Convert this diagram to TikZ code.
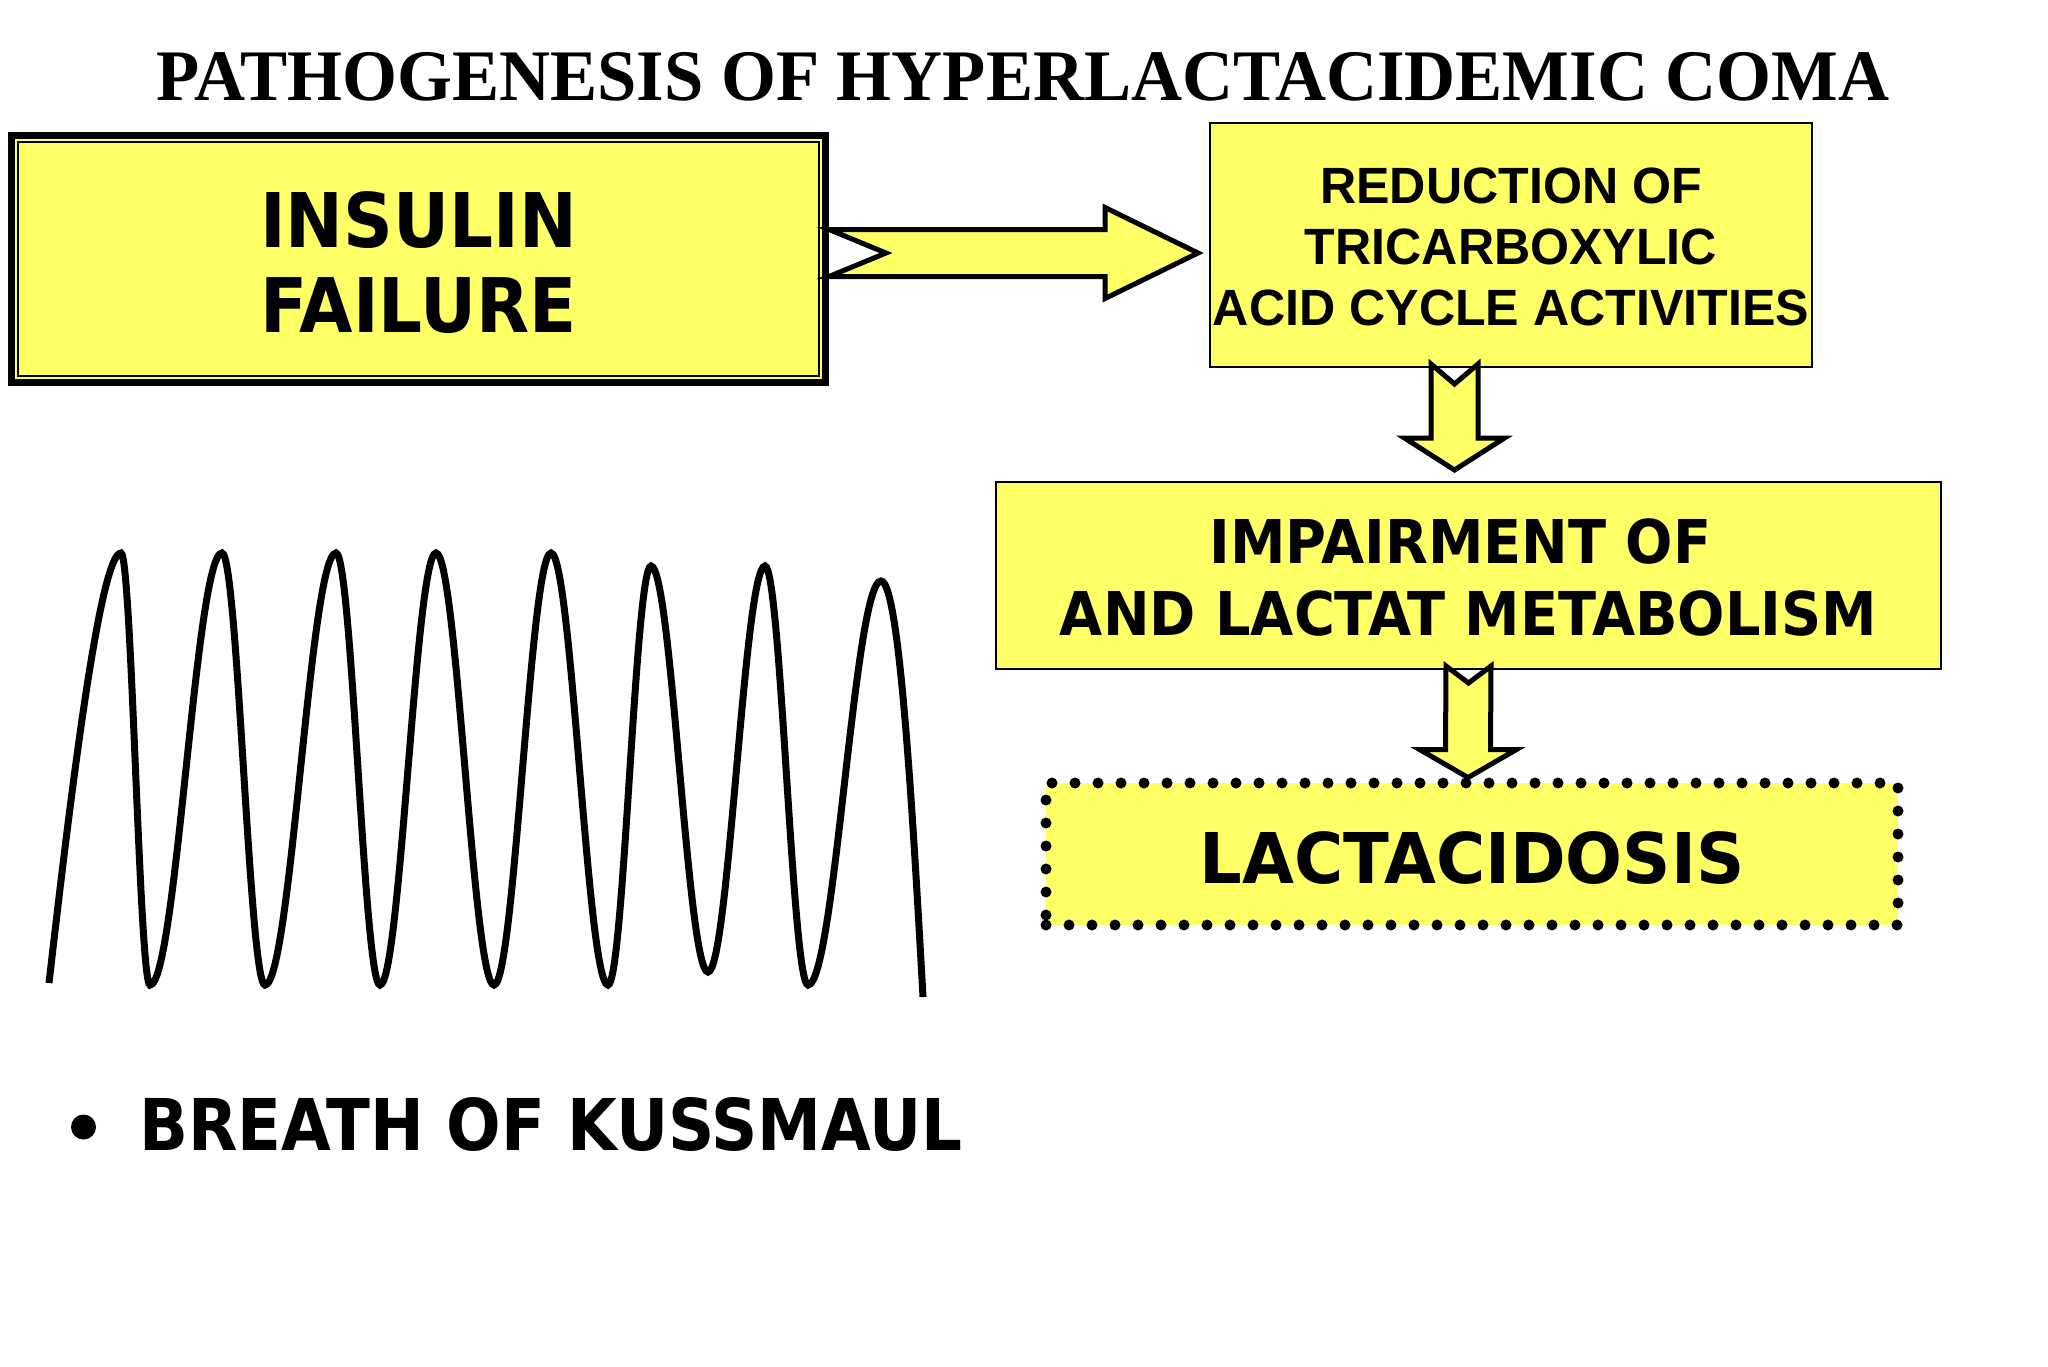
\documentclass[tikz,border=0pt]{standalone}
\usepackage{fontspec}
\setmainfont{DejaVu Sans}
\newfontfamily\titlefont[FakeStretch=0.973]{Liberation Serif}
\newfontfamily\arialfont[FakeStretch=0.983]{Liberation Sans}
\newfontfamily\verdA[FakeStretch=0.916]{DejaVu Sans}
\newfontfamily\verdB[FakeStretch=0.923]{DejaVu Sans}
\newfontfamily\verdC[FakeStretch=0.958]{DejaVu Sans}
\newfontfamily\verdD[FakeStretch=0.90]{DejaVu Sans}
\usetikzlibrary{calc}
\definecolor{boxyellow}{HTML}{FFFF66}
\begin{document}
\begin{tikzpicture}[x=0.5pt,y=-0.5pt,
  box/.style={draw=black, line width=1pt, fill=boxyellow, inner sep=0pt},
  boxtext/.style={inner sep=0pt, align=center},
  blockarrow/.style={draw=black, line width=2.5pt, fill=boxyellow, line join=miter},
  wave/.style={draw=black, line width=3.5pt},
]
\fill[white] (0,0) rectangle (2048,1366);
\useasboundingbox (0,0) rectangle (2048,1366);

% title
\node[anchor=base, inner sep=0pt, font=\titlefont\bfseries\fontsize{36.3}{40}\selectfont] (title) at (1023,100) {PATHOGENESIS OF HYPERLACTACIDEMIC COMA};

% insulin failure box
\node[box, line width=3.5pt, minimum width=407pt, minimum height=123.5pt] (insulin) at (418.5,259) {};
\draw[line width=1.1pt] ($(insulin.north west)+(10,10)$) rectangle ($(insulin.south east)+(-10,-10)$);
\node[boxtext, font=\verdA\bfseries\fontsize{37.7}{42.5}\selectfont] (insulintext) at ($(insulin.center)+(0,4)$) {INSULIN\\FAILURE};

% reduction box
\node[box, minimum width=301pt, minimum height=122pt] (tca) at (1511,245) {};
\node[boxtext, font=\arialfont\bfseries\fontsize{25.5}{30.5}\selectfont] (tcatext) at ($(tca.center)+(0,2)$) {REDUCTION OF\\TRICARBOXYLIC\\ACID CYCLE ACTIVITIES};

% impairment box
\node[box, minimum width=472.5pt, minimum height=93.5pt] (impair) at (1468.5,575.5) {};
\node[boxtext, font=\verdB\bfseries\fontsize{30.2}{36}\selectfont] (impairtext) at ($(impair.center)+(0,2)$) {IMPAIRMENT OF\hspace*{8pt}\\AND LACTAT METABOLISM};

% lactacidosis box
\node[box, line width=5.5pt, dash pattern=on 0pt off 11.5pt, line cap=round, minimum width=426pt, minimum height=71pt] (lact) at (1472,854) {};
\node[boxtext, font=\verdC\bfseries\fontsize{35}{40}\selectfont] (lacttext) at ($(lact.center)+(0,4)$) {LACTACIDOSIS};

% horizontal block arrow
\coordinate (hs) at ($(insulin.east)+(0,-6)$);
\coordinate (ht) at ($(tca.west)+(-11,8)$);
\draw[blockarrow] ($(hs)+(0,-23.5)$) -- ($(ht)+(-93,-23.5)$) -- ($(ht)+(-93,-45.5)$) -- (ht)
  -- ($(ht)+(-93,45.5)$) -- ($(ht)+(-93,23.5)$) -- ($(hs)+(0,23.5)$) -- ($(hs)+(57,0)$) -- cycle;

% down arrow 1
\coordinate (d1s) at ($(tca.south)+(-56.5,-4)$);
\coordinate (d1t) at ($(impair.north)+(-14,-11)$);
\draw[blockarrow] ($(d1s)+(-23.5,0)$) -- ($(d1s)+(0,20)$) -- ($(d1s)+(23.5,0)$) -- ($(d1t)+(23.5,-32)$)
  -- ($(d1t)+(50,-32)$) -- (d1t) -- ($(d1t)+(-50,-32)$) -- ($(d1t)+(-23.5,-32)$) -- cycle;

% down arrow 2
\coordinate (d2s) at ($(impair.south)+(0,-4)$);
\coordinate (d2t) at ($(lact.north)+(-4,0)$);
\draw[blockarrow] ($(d2s)+(-22.5,0)$) -- ($(d2s)+(0,17)$) -- ($(d2s)+(22.5,0)$) -- ($(d2t)+(22.5,-28)$)
  -- ($(d2t)+(48.5,-28)$) -- (d2t) -- ($(d2t)+(-48.5,-28)$) -- ($(d2t)+(-22.5,-28)$) -- cycle;

% breathing wave
\draw[wave] (49,983) .. controls (70,800) and (100,553) .. (121,553)
  .. controls (131.6,553) and (139.4,985) .. (150,985)
  .. controls (176.2,985) and (195.8,553) .. (222,553)
  .. controls (237.7,553) and (249.3,985) .. (265,985)
  .. controls (290.8,985) and (310.2,553) .. (336,553)
  .. controls (352,553) and (364,985) .. (380,985)
  .. controls (400.4,985) and (415.6,553) .. (436,553)
  .. controls (457.1,553) and (472.9,985) .. (494,985)
  .. controls (514.7,985) and (530.3,553) .. (551,553)
  .. controls (571.7,553) and (587.3,985) .. (608,985)
  .. controls (623.7,985) and (635.3,566) .. (651,566)
  .. controls (671.7,566) and (687.3,972) .. (708,972)
  .. controls (728.7,972) and (744.3,566) .. (765,566)
  .. controls (780.7,566) and (792.3,985) .. (808,985)
  .. controls (834.6,985) and (854.4,581) .. (881,581)
  .. controls (899,581) and (912,800) .. (923,997);

% bullet and text
\fill[black] (83.5,1127) circle (12.5);
\node[anchor=base west, inner sep=0pt, font=\verdD\bfseries\fontsize{35.7}{40}\selectfont] (kuss) at (139,1150) {BREATH OF KUSSMAUL};
\end{tikzpicture}
\end{document}
